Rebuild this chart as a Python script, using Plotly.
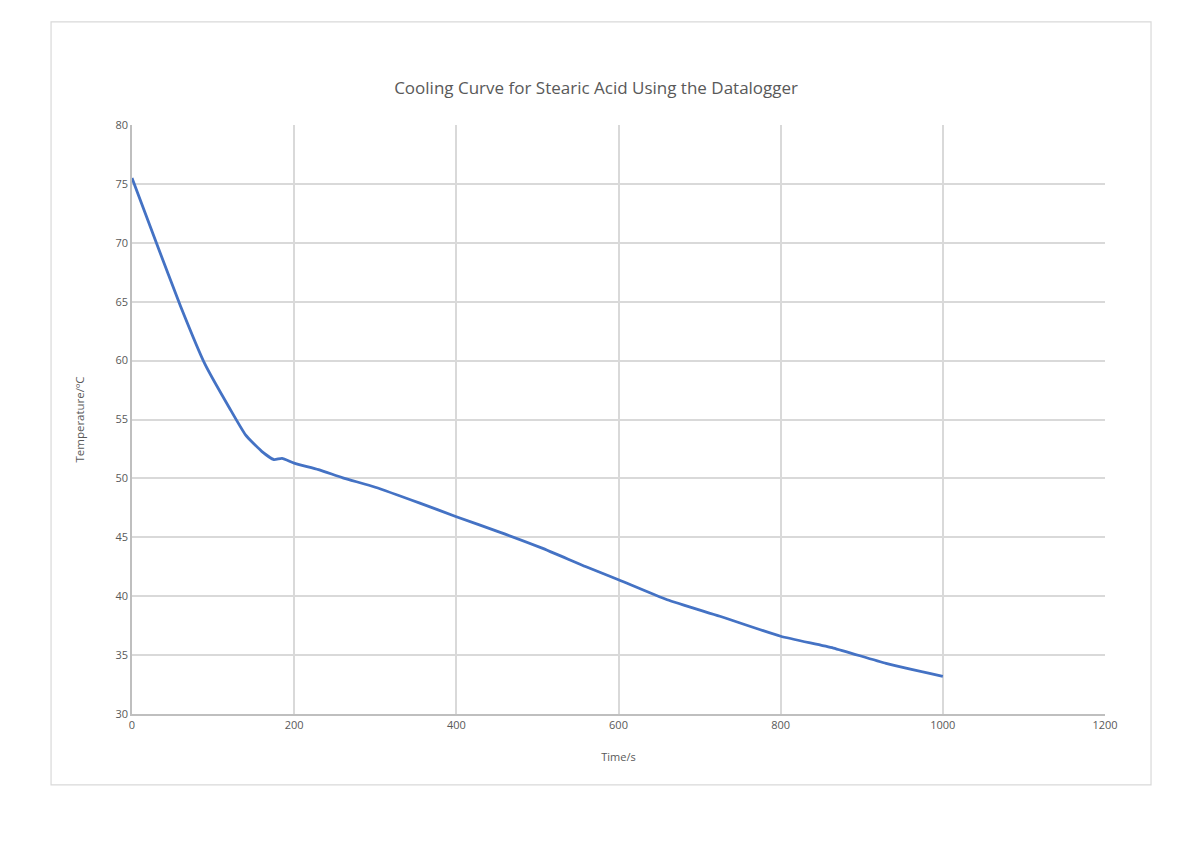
import plotly.graph_objects as go

# === DATA ===
time_s = [0, 30, 60, 90, 120, 140, 160, 175, 185, 200,
          230, 260, 300, 355, 400, 455, 505, 560, 600, 660, 725, 800, 865, 930, 1000]
temp_c = [75.5, 70.0, 64.6, 59.7, 56.0, 53.7, 52.3, 51.6, 51.7, 51.3,
          50.75, 50.05, 49.25, 47.9, 46.75, 45.4, 44.1, 42.5, 41.4, 39.7, 38.3, 36.6, 35.6, 34.3, 33.2]

x_ticks = [0, 200, 400, 600, 800, 1000, 1200]
y_ticks = [30, 35, 40, 45, 50, 55, 60, 65, 70, 75, 80]

FONT = "Open Sans"
GREY_TXT = "#595959"
GRID = "#d9d9d9"

fig = go.Figure()

fig.add_trace(go.Scatter(
    x=time_s, y=temp_c,
    mode="lines",
    line=dict(color="#4472C4", width=2.8, shape="spline", smoothing=0.5),
    showlegend=False,
))

# outer chart-area border (like the Excel chart frame)
fig.add_shape(
    type="rect", xref="paper", yref="paper",
    x0=-0.0832, x1=1.0473, y0=-0.1205, y1=1.175,
    line=dict(color=GRID, width=1.2), fillcolor="rgba(0,0,0,0)", layer="below",
)

fig.update_layout(
    width=1200, height=849,
    margin=dict(l=124, r=103, t=117, b=143),
    paper_bgcolor="white",
    plot_bgcolor="white",
    font=dict(family=FONT, color=GREY_TXT, size=11),
    title=dict(
        text="Cooling Curve for Stearic Acid Using the Datalogger",
        x=0.477, xref="paper", xanchor="center",
        y=1 - 80 / 849, yref="container", yanchor="middle",
        font=dict(family=FONT, size=17, color=GREY_TXT),
    ),
    xaxis=dict(
        range=[0, 1200], tickvals=x_ticks,
        showgrid=True, gridcolor=GRID, gridwidth=1.5,
        showline=True, linecolor="#bfbfbf", linewidth=1.5,
        zeroline=False, ticks="", ticklen=0,
        tickfont=dict(size=11, color=GREY_TXT),
        title=dict(text="Time/s", font=dict(size=11, color=GREY_TXT), standoff=22),
    ),
    yaxis=dict(
        range=[30, 80], tickvals=y_ticks,
        showgrid=True, gridcolor=GRID, gridwidth=1.5,
        showline=True, linecolor="#bfbfbf", linewidth=1.5,
        zeroline=False, ticks="", ticklen=0,
        tickfont=dict(size=11, color=GREY_TXT),
        title=dict(text="Temperature/ºC", font=dict(size=11.5, color=GREY_TXT), standoff=28),
    ),
)

fig.write_html("out.html")
